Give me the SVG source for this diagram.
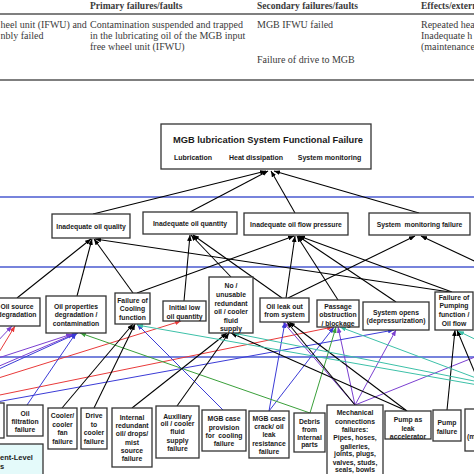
<svg xmlns="http://www.w3.org/2000/svg" width="474" height="474" viewBox="0 0 474 474">
<style>
.tb{font-family:"Liberation Serif",serif;font-size:10px;fill:#3a3a3a}
.th{font-family:"Liberation Serif",serif;font-size:9.5px;font-weight:bold;fill:#3a3a3a}
.rule{stroke:#555;stroke-width:1.5}
.bx{fill:#fff;stroke:#333;stroke-width:1.3}
.lb{font-family:"Liberation Sans",Arial,sans-serif;font-size:6.8px;font-weight:bold;fill:#1a1a1a;text-anchor:middle}
.tt{font-family:"Liberation Sans",Arial,sans-serif;font-size:9.3px;font-weight:bold;fill:#1a1a1a;text-anchor:middle}
.st{font-family:"Liberation Sans",Arial,sans-serif;font-size:7px;font-weight:bold;fill:#1a1a1a;text-anchor:middle}
.hl{stroke:#4a5ad0;stroke-width:1.3}
.k{stroke:#000;stroke-width:1.05;marker-end:url(#mk)}
.r{stroke:#e83a3a;stroke-width:1;marker-end:url(#mr)}
.b{stroke:#3b3bd6;stroke-width:1;marker-end:url(#mb)}
.p{stroke:#7b3fd0;stroke-width:1;marker-end:url(#mp)}
.g{stroke:#3aa03a;stroke-width:1;marker-end:url(#mg)}
.t{stroke:#3cc0a8;stroke-width:1;marker-end:url(#mt)}
</style>
<defs>
<marker id="mk" viewBox="0 0 10 8" refX="10" refY="4" markerWidth="6" markerHeight="5" markerUnits="userSpaceOnUse" orient="auto"><path d="M0,0L10,4L0,8z" fill="#000"/></marker>
<marker id="mr" viewBox="0 0 10 8" refX="10" refY="4" markerWidth="6" markerHeight="5" markerUnits="userSpaceOnUse" orient="auto"><path d="M0,0L10,4L0,8z" fill="#e83a3a"/></marker>
<marker id="mb" viewBox="0 0 10 8" refX="10" refY="4" markerWidth="6" markerHeight="5" markerUnits="userSpaceOnUse" orient="auto"><path d="M0,0L10,4L0,8z" fill="#3b3bd6"/></marker>
<marker id="mp" viewBox="0 0 10 8" refX="10" refY="4" markerWidth="6" markerHeight="5" markerUnits="userSpaceOnUse" orient="auto"><path d="M0,0L10,4L0,8z" fill="#7b3fd0"/></marker>
<marker id="mg" viewBox="0 0 10 8" refX="10" refY="4" markerWidth="6" markerHeight="5" markerUnits="userSpaceOnUse" orient="auto"><path d="M0,0L10,4L0,8z" fill="#3aa03a"/></marker>
<marker id="mt" viewBox="0 0 10 8" refX="10" refY="4" markerWidth="6" markerHeight="5" markerUnits="userSpaceOnUse" orient="auto"><path d="M0,0L10,4L0,8z" fill="#3cc0a8"/></marker>
</defs>
<rect width="474" height="474" fill="#fff"/>

<g id="table">
<text class="th" x="90" y="9">Primary failures/faults</text>
<text class="th" x="257" y="9">Secondary failures/faults</text>
<text class="th" x="421" y="9">Effects/extern</text>
<line class="rule" x1="0" y1="14" x2="474" y2="14"/>
<text class="tb" x="0.5" y="28">heel unit (IFWU) and</text>
<text class="tb" x="0.5" y="39">nbly failed</text>
<text class="tb" x="90" y="28">Contamination suspended and trapped</text>
<text class="tb" x="90" y="39">in the lubricating oil of the MGB input</text>
<text class="tb" x="90" y="50">free wheel unit (IFWU)</text>
<text class="tb" x="257" y="28">MGB IFWU failed</text>
<text class="tb" x="257" y="63">Failure of drive to MGB</text>
<text class="tb" x="421" y="28">Repeated hea</text>
<text class="tb" x="421" y="39">Inadequate h</text>
<text class="tb" x="421" y="50">(maintenance</text>
<line class="rule" x1="0" y1="80" x2="474" y2="80"/>
</g>

<g id="bands">
<line class="hl" x1="0" y1="197" x2="474" y2="197"/>
<line class="hl" x1="0" y1="267" x2="474" y2="267"/>
<line class="hl" x1="0" y1="357" x2="474" y2="357"/>
</g>

<g id="connectors" fill="none">
<line class="k" x1="93" y1="214" x2="266" y2="171"/>
<line class="k" x1="190" y1="212" x2="268" y2="171"/>
<line class="k" x1="295" y1="213" x2="271" y2="171"/>
<line class="k" x1="419" y1="213" x2="274" y2="171"/>

<line class="k" x1="17" y1="298" x2="91" y2="239"/>
<line class="k" x1="77" y1="296" x2="92" y2="239"/>
<line class="k" x1="133" y1="293" x2="94" y2="239"/>
<line class="k" x1="450" y1="292" x2="95" y2="239"/>
<line class="k" x1="184" y1="301" x2="190" y2="235"/>
<line class="k" x1="231" y1="277" x2="191" y2="235"/>
<line class="k" x1="282" y1="298" x2="193" y2="235"/>
<line class="k" x1="137" y1="293" x2="294" y2="236"/>
<line class="k" x1="286" y1="298" x2="295" y2="236"/>
<line class="k" x1="338" y1="300" x2="297" y2="236"/>
<line class="k" x1="396" y1="302" x2="298" y2="236"/>
<line class="k" x1="452" y1="292" x2="299" y2="236"/>
<line class="k" x1="288" y1="298" x2="415" y2="236"/>
<line class="k" x1="540" y1="292" x2="421" y2="236"/>

<line class="r" x1="-30" y1="400" x2="15" y2="326"/>
<line class="r" x1="-40" y1="390" x2="181" y2="321"/>
<line class="r" x1="-10" y1="397" x2="333" y2="327"/>
<line class="p" x1="-58" y1="400" x2="12" y2="326"/>
<line class="p" x1="-140" y1="403" x2="72" y2="334"/>
<line class="p" x1="-80" y1="400" x2="74" y2="334"/>
<line class="p" x1="355" y1="405" x2="283" y2="322"/>
<line class="p" x1="355" y1="405" x2="338" y2="327"/>
<line class="p" x1="355" y1="405" x2="396" y2="330"/>
<line class="p" x1="355" y1="405" x2="560" y2="323"/>
<line class="b" x1="27" y1="405" x2="76" y2="333"/>
<line class="b" x1="-76" y1="403" x2="78" y2="333"/>
<line class="b" x1="223" y1="410" x2="137" y2="324"/>
<line class="b" x1="269" y1="411" x2="285" y2="322"/>
<line class="b" x1="269" y1="411" x2="334" y2="327"/>
<line class="b" x1="-20" y1="405" x2="394" y2="330"/>
<line class="g" x1="310" y1="413" x2="80" y2="333"/>
<line class="g" x1="310" y1="413" x2="336" y2="327"/>
<line class="k" x1="62" y1="408" x2="133" y2="324"/>
<line class="k" x1="94" y1="408" x2="135" y2="324"/>
<line class="k" x1="132" y1="408" x2="227" y2="333"/>
<line class="k" x1="177" y1="406" x2="229" y2="333"/>
<line class="k" x1="407" y1="411" x2="231" y2="333"/>
<line class="k" x1="355" y1="405" x2="287" y2="322"/>
<line class="k" x1="407" y1="411" x2="289" y2="322"/>
<line class="k" x1="447" y1="410" x2="455" y2="330"/>
<line class="k" x1="490" y1="409" x2="457" y2="330"/>
<line class="t" x1="620" y1="410" x2="137" y2="325"/>
<line class="t" x1="620" y1="410" x2="233" y2="333"/>
<line class="t" x1="620" y1="432" x2="340" y2="327"/>
<line class="t" x1="560" y1="380" x2="458" y2="331"/>
</g>

<g id="top">
<rect class="bx" x="161" y="124" width="210" height="45"/>
<text class="tt" x="268" y="142.5">MGB lubrication System Functional Failure</text>
<text class="st" x="193" y="160">Lubrication</text>
<text class="st" x="256" y="160">Heat dissipation</text>
<text class="st" x="329.5" y="160">System monitoring</text>
</g>

<g id="n-quality"><rect class="bx" x="52" y="214" width="78" height="24"/><text class="lb" x="91" y="228.5">Inadequate oil quality</text></g>
<g id="n-quantity"><rect class="bx" x="143" y="212" width="94" height="22"/><text class="lb" x="190" y="225.5">Inadequate oil quantity</text></g>
<g id="n-flow"><rect class="bx" x="244" y="213" width="104" height="22"/><text class="lb" x="296" y="226.5">Inadequate oil flow pressure</text></g>
<g id="n-monitor"><rect class="bx" x="369" y="213" width="101" height="22"/><text class="lb" x="419.5" y="226.5" style="white-space:pre">System  monitoring failure</text></g>

<g id="n-oilsource"><rect class="bx" x="-5" y="298" width="45" height="28"/><text class="lb" x="17" y="308.5">Oil source</text><text class="lb" x="17" y="316.5">degradation</text></g>
<g id="n-oilprop"><rect class="bx" x="46" y="296" width="60" height="37"/><text class="lb" x="76" y="308.5">Oil properties</text><text class="lb" x="76" y="316.5">degradation /</text><text class="lb" x="76" y="325.5">contamination</text></g>
<g id="n-cooling"><rect class="bx" x="115" y="293" width="35" height="31"/><text class="lb" x="132.5" y="302.5">Failure of</text><text class="lb" x="132.5" y="310.5">Cooling</text><text class="lb" x="132.5" y="319.5">function</text></g>
<g id="n-initlow"><rect class="bx" x="163" y="301" width="43" height="20"/><text class="lb" x="184.5" y="309.5">Initial low</text><text class="lb" x="184.5" y="318.5">oil quantity</text></g>
<g id="n-nosupply"><rect class="bx" x="209" y="277" width="44" height="56"/><text class="lb" x="231" y="287.5">No /</text><text class="lb" x="231" y="296.5">unusable</text><text class="lb" x="231" y="305.5">redundant</text><text class="lb" x="231" y="313.5">oil / cooler</text><text class="lb" x="231" y="322.5">fluid</text><text class="lb" x="231" y="330.5">supply</text></g>
<g id="n-leak"><rect class="bx" x="260" y="298" width="49" height="24"/><text class="lb" x="284.5" y="308.5">Oil leak out</text><text class="lb" x="284.5" y="316.5">from system</text></g>
<g id="n-passage"><rect class="bx" x="317" y="300" width="42" height="27"/><text class="lb" x="338" y="308.5">Passage</text><text class="lb" x="338" y="316.5">obstruction</text><text class="lb" x="338" y="325.5">/ blockage</text></g>
<g id="n-opens"><rect class="bx" x="363" y="302" width="66" height="28"/><text class="lb" x="396" y="314.5">System opens</text><text class="lb" x="396" y="322.5">(depressurization)</text></g>
<g id="n-pumping"><rect class="bx" x="435" y="292" width="38" height="38"/><text class="lb" x="454" y="299.5">Failure of</text><text class="lb" x="454" y="307.5">Pumping</text><text class="lb" x="454" y="316.5">function /</text><text class="lb" x="454" y="325.5">Oil flow</text></g>

<g id="n-left"><rect class="bx" x="-40" y="403" width="44" height="35"/></g>
<g id="n-filtration"><rect class="bx" x="7" y="405" width="36" height="31"/><text class="lb" x="25" y="415.5">Oil</text><text class="lb" x="25" y="423.5">filtration</text><text class="lb" x="25" y="431.5">failure</text></g>
<g id="n-coolerfan"><rect class="bx" x="48" y="408" width="29" height="41"/><text class="lb" x="62.5" y="417.5">Cooler/</text><text class="lb" x="62.5" y="426.5">cooler</text><text class="lb" x="62.5" y="434.5">fan</text><text class="lb" x="62.5" y="443.5">failure</text></g>
<g id="n-drive"><rect class="bx" x="81" y="408" width="26" height="41"/><text class="lb" x="94" y="417.5">Drive</text><text class="lb" x="94" y="426.5">to</text><text class="lb" x="94" y="434.5">cooler</text><text class="lb" x="94" y="443.5">failure</text></g>
<g id="n-internal"><rect class="bx" x="112" y="408" width="40" height="59"/><text class="lb" x="132" y="419.5">Internal</text><text class="lb" x="132" y="427.5">redundant</text><text class="lb" x="132" y="435.5">oil/ drops/</text><text class="lb" x="132" y="444.5">mist</text><text class="lb" x="132" y="452.5">source</text><text class="lb" x="132" y="460.5">failure</text></g>
<g id="n-auxiliary"><rect class="bx" x="156" y="406" width="43" height="52"/><text class="lb" x="177.5" y="418.5">Auxiliary</text><text class="lb" x="177.5" y="425.5">oil / cooler</text><text class="lb" x="177.5" y="433.5">fluid</text><text class="lb" x="177.5" y="442.5">supply</text><text class="lb" x="177.5" y="450.5">failure</text></g>
<g id="n-provision"><rect class="bx" x="202" y="410" width="44" height="41"/><text class="lb" x="224" y="420.5">MGB case</text><text class="lb" x="224" y="429.5">provision</text><text class="lb" x="224" y="437.5" style="white-space:pre">for  cooling</text><text class="lb" x="224" y="445.5">failure</text></g>
<g id="n-crack"><rect class="bx" x="249" y="411" width="40" height="47"/><text class="lb" x="269" y="420.5">MGB case</text><text class="lb" x="269" y="428.5">crack/ oil</text><text class="lb" x="269" y="436.5">leak</text><text class="lb" x="269" y="445.5">resistance</text><text class="lb" x="269" y="453.5">failure</text></g>
<g id="n-debris"><rect class="bx" x="294" y="413" width="31" height="39"/><text class="lb" x="309.5" y="423.5">Debris</text><text class="lb" x="309.5" y="431.5">from</text><text class="lb" x="309.5" y="439.5">Internal</text><text class="lb" x="309.5" y="446.5">parts</text></g>
<g id="n-mechanical"><rect class="bx" x="327" y="405" width="56" height="75"/><text class="lb" x="355" y="414.5">Mechanical</text><text class="lb" x="355" y="423.5">connections</text><text class="lb" x="355" y="431.5">failures:</text><text class="lb" x="355" y="439.5">Pipes, hoses,</text><text class="lb" x="355" y="448.5">galleries,</text><text class="lb" x="355" y="455.5">joints, plugs,</text><text class="lb" x="355" y="464.5">valves, studs,</text><text class="lb" x="355" y="471.5">seals, bowls</text></g>
<g id="n-pumpleak"><rect class="bx" x="385" y="411" width="46" height="28"/><text class="lb" x="408" y="421.5">Pump as</text><text class="lb" x="408" y="430.5">leak</text><text class="lb" x="408" y="438.5">accelerator</text></g>
<g id="n-pumpfail"><rect class="bx" x="433" y="410" width="28" height="31"/><text class="lb" x="447" y="424.5">Pump</text><text class="lb" x="447" y="433.5">failure</text></g>
<g id="n-right"><rect class="bx" x="465" y="409" width="30" height="42"/><text class="lb" x="467" y="438.5" style="text-anchor:start">(m</text></g>

<g id="legend"><rect x="-20" y="444" width="63" height="40" fill="#e4fafa" stroke="#333" stroke-width="1.3"/><text x="0" y="460" font-family="Liberation Sans, Arial, sans-serif" font-size="7.5" font-weight="bold" fill="#1a1a1a">ent-Level</text><text x="0" y="469" font-family="Liberation Sans, Arial, sans-serif" font-size="7.5" font-weight="bold" fill="#1a1a1a">s</text></g>
</svg>
